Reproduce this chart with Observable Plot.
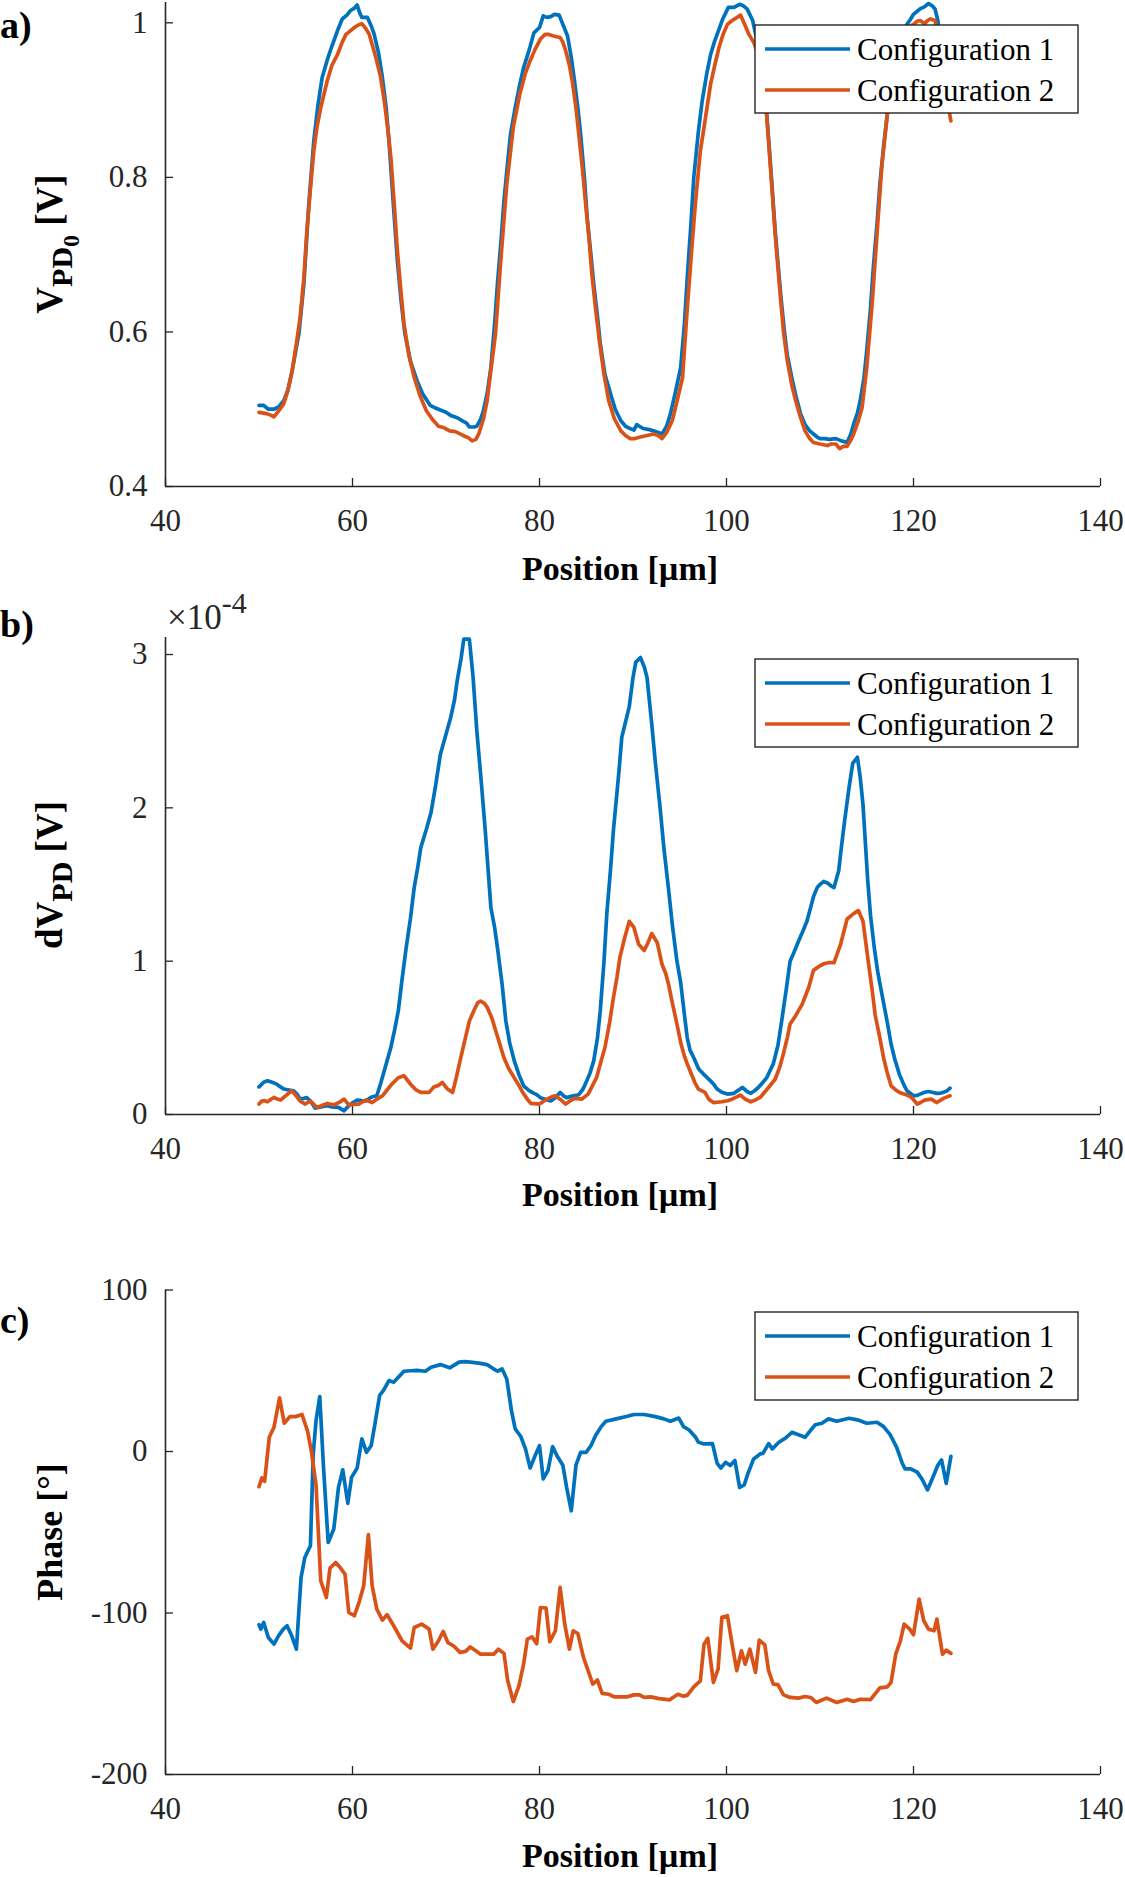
<!DOCTYPE html>
<html>
<head>
<meta charset="utf-8">
<script src="https://cdn.jsdelivr.net/npm/d3@7"></script>
<script src="https://cdn.jsdelivr.net/npm/@observablehq/plot@0.6"></script>
<style>
  html, body { margin: 0; padding: 0; background: #fff; }
  #fig { position: relative; width: 1125px; height: 1877px; overflow: hidden; }
  #fig > svg { position: absolute; left: 0; }
</style>
</head>
<body>
<div id="fig"></div>
<script>
// ---------- data ----------
const seriesNames = ["Configuration 1", "Configuration 2"];
const seriesColors = ["#0072BD", "#D95319"];
const xTicks = [40, 60, 80, 100, 120, 140];

// (a) photodiode DC level V_PD0 [V]
const posA1 = [50.0,50.5,51.0,51.6,52.1,52.65,53.1,53.55,54.27,54.8,55.3,55.86,56.3,56.75,57.3,57.8,58.4,58.9,59.4,59.8,60.2,60.5,60.8,61.0,61.6,62.0,62.3,62.8,63.2,63.6,63.9,64.4,64.8,65.2,65.6,66.2,66.9,67.5,68.3,68.8,69.4,70.0,70.5,71.2,71.9,72.2,72.5,73.0,73.3,73.7,74.0,74.4,74.8,75.2,75.5,75.9,76.2,76.6,76.9,77.4,77.8,78.3,78.9,79.4,80.0,80.4,80.8,81.2,81.6,82.1,82.5,83.0,83.4,83.7,84.1,84.4,84.8,85.1,85.5,85.8,86.2,86.5,87.0,87.6,88.1,88.7,89.2,89.7,90.1,90.4,90.8,91.1,91.6,92.2,92.7,93.1,93.6,94.0,94.5,95.1,95.5,95.8,96.2,96.5,97.0,97.4,97.9,98.3,98.7,99.0,99.6,100.2,100.8,101.4,101.8,102.2,102.8,103.3,103.8,104.3,104.7,105.2,105.8,106.2,106.5,107.0,107.4,107.9,108.4,108.9,109.3,109.7,110.0,110.5,111.0,111.7,112.3,112.9,113.3,113.6,114.0,114.3,114.7,115.0,115.4,115.7,116.1,116.4,116.8,117.2,117.7,118.3,118.8,119.3,119.7,120.0,120.4,120.7,121.2,121.6,122.0,122.3,122.6,123.0,123.5,124.0];
const vA1 = [0.505,0.505,0.500,0.500,0.503,0.511,0.525,0.550,0.598,0.662,0.761,0.847,0.893,0.929,0.952,0.970,0.990,1.005,1.010,1.016,1.019,1.023,1.012,1.007,1.007,0.996,0.986,0.960,0.929,0.890,0.847,0.760,0.692,0.640,0.598,0.562,0.537,0.520,0.505,0.502,0.499,0.496,0.492,0.489,0.484,0.482,0.477,0.477,0.478,0.487,0.498,0.520,0.554,0.610,0.662,0.720,0.770,0.820,0.856,0.890,0.915,0.942,0.965,0.987,0.994,1.009,1.007,1.008,1.011,1.010,0.998,0.983,0.955,0.929,0.890,0.856,0.800,0.748,0.700,0.662,0.620,0.585,0.545,0.520,0.500,0.485,0.478,0.475,0.473,0.480,0.477,0.475,0.474,0.472,0.470,0.468,0.478,0.494,0.520,0.554,0.610,0.670,0.740,0.800,0.860,0.899,0.935,0.959,0.975,0.985,1.005,1.020,1.020,1.024,1.022,1.018,1.003,0.975,0.930,0.882,0.818,0.732,0.648,0.600,0.570,0.540,0.518,0.495,0.480,0.472,0.468,0.464,0.462,0.462,0.461,0.462,0.459,0.457,0.468,0.481,0.495,0.511,0.540,0.576,0.630,0.683,0.740,0.791,0.840,0.882,0.930,0.965,0.985,0.998,1.005,1.011,1.015,1.018,1.021,1.025,1.022,1.018,1.003,0.970,0.930,0.895];
const posA2 = [50.0,50.5,50.9,51.3,51.6,52.1,52.65,53.1,53.55,54.0,54.4,54.8,55.1,55.5,55.86,56.2,56.6,57.3,57.8,58.4,58.9,59.3,59.8,60.2,60.6,61.0,61.4,61.8,62.1,62.5,63.0,63.4,63.8,64.1,64.5,64.8,65.2,65.5,66.0,66.6,67.2,67.9,68.6,69.2,69.8,70.4,71.0,71.5,72.0,72.4,72.8,73.2,73.5,74.0,74.4,74.8,75.3,75.8,76.2,76.5,77.2,77.9,78.5,79.0,79.5,80.1,80.6,81.0,81.5,82.2,82.5,82.8,83.2,83.5,83.9,84.2,84.6,84.9,85.3,85.6,86.0,86.4,86.9,87.4,88.0,88.7,89.2,89.7,90.2,90.8,91.5,92.2,92.7,93.1,93.6,94.2,94.7,95.3,95.8,96.3,96.7,97.2,97.6,98.3,98.8,99.2,99.6,100.1,100.6,101.0,101.5,101.9,102.4,102.9,103.3,103.8,104.3,104.7,105.2,105.8,106.1,106.5,107.0,107.4,107.9,108.4,108.9,109.3,110.0,110.8,111.2,111.7,112.1,112.5,112.9,113.3,113.6,114.1,114.5,115.0,115.6,116.1,116.6,117.2,117.7,118.3,118.9,119.5,120.0,120.4,120.7,121.2,121.5,121.8,122.3,122.7,123.2,123.6,124.0];
const vA2 = [0.496,0.495,0.494,0.492,0.490,0.498,0.507,0.525,0.550,0.585,0.619,0.670,0.727,0.785,0.834,0.865,0.890,0.925,0.945,0.959,0.975,0.985,0.990,0.994,0.997,0.999,0.993,0.985,0.972,0.955,0.930,0.899,0.860,0.826,0.760,0.705,0.650,0.611,0.572,0.541,0.518,0.498,0.486,0.478,0.476,0.472,0.471,0.468,0.465,0.463,0.459,0.461,0.468,0.487,0.511,0.550,0.598,0.683,0.745,0.791,0.865,0.908,0.935,0.951,0.965,0.979,0.985,0.985,0.983,0.981,0.975,0.964,0.945,0.925,0.890,0.856,0.810,0.770,0.720,0.675,0.630,0.589,0.545,0.511,0.488,0.472,0.466,0.462,0.462,0.464,0.466,0.468,0.466,0.462,0.470,0.485,0.510,0.541,0.630,0.710,0.770,0.834,0.865,0.921,0.948,0.968,0.984,0.998,1.003,1.006,1.010,0.999,0.985,0.975,0.962,0.930,0.880,0.813,0.727,0.640,0.600,0.563,0.530,0.511,0.490,0.472,0.462,0.457,0.455,0.453,0.455,0.455,0.449,0.452,0.452,0.460,0.468,0.485,0.502,0.554,0.640,0.727,0.813,0.882,0.930,0.965,0.985,0.995,0.998,1.002,1.003,0.999,1.003,1.005,1.003,0.980,0.940,0.900,0.873];

// (b) modulated signal dV_PD, in units of 1e-4 V
const posB1 = [50.0,50.5,50.9,51.4,51.9,52.3,52.65,53.2,53.7,54.1,54.4,54.8,55.1,55.5,56.0,56.5,57.3,57.8,58.5,59.1,59.6,60.1,60.5,61.0,61.4,61.8,62.1,62.6,63.0,63.3,63.7,64.1,64.5,64.9,65.3,65.7,66.2,66.6,67.0,67.3,67.9,68.4,68.9,69.4,70.0,70.5,70.9,71.2,71.6,71.9,72.5,72.9,73.3,73.8,74.2,74.5,74.8,75.2,75.5,76.0,76.4,76.8,77.3,77.8,78.3,78.8,79.2,79.7,80.1,80.6,81.2,81.7,82.2,82.6,82.9,83.5,84.2,84.6,84.9,85.4,85.8,86.2,86.5,86.9,87.2,87.6,87.9,88.5,88.8,89.2,89.6,90.0,90.3,90.8,91.2,91.5,92.0,92.4,92.9,93.3,93.8,94.2,94.7,95.1,95.5,95.8,96.1,96.5,97.0,97.2,97.6,98.1,98.6,99.0,99.5,100.1,100.8,101.3,101.7,102.2,102.6,103.0,103.4,103.9,104.3,105.0,105.5,105.9,106.4,106.8,107.3,107.7,108.2,108.6,109.0,109.3,109.7,110.0,110.4,110.8,111.2,111.5,112.0,112.3,112.6,113.1,113.5,114.0,114.3,114.6,115.1,115.4,115.8,116.2,116.7,117.2,117.6,118.0,118.5,119.0,119.3,120.0,120.4,120.7,121.2,121.6,122.0,122.5,122.9,123.2,123.6,123.9];
const dvB1 = [0.18,0.21,0.22,0.21,0.198,0.18,0.166,0.16,0.155,0.13,0.10,0.105,0.11,0.088,0.042,0.048,0.057,0.05,0.046,0.024,0.057,0.08,0.094,0.09,0.088,0.105,0.116,0.122,0.20,0.264,0.35,0.437,0.55,0.677,0.88,1.069,1.28,1.48,1.62,1.74,1.86,1.97,2.15,2.35,2.48,2.59,2.70,2.83,2.97,3.10,3.10,2.85,2.50,2.15,1.85,1.60,1.35,1.22,1.09,0.85,0.61,0.47,0.35,0.26,0.187,0.16,0.144,0.13,0.11,0.10,0.088,0.11,0.144,0.12,0.11,0.12,0.129,0.16,0.198,0.27,0.35,0.50,0.677,1.00,1.31,1.60,1.85,2.24,2.46,2.56,2.66,2.85,2.95,2.98,2.92,2.85,2.55,2.29,2.00,1.74,1.47,1.24,1.00,0.86,0.65,0.50,0.42,0.37,0.30,0.285,0.26,0.231,0.20,0.166,0.145,0.133,0.138,0.16,0.176,0.15,0.138,0.155,0.176,0.21,0.24,0.33,0.45,0.61,0.82,1.00,1.07,1.13,1.20,1.26,1.35,1.42,1.48,1.50,1.52,1.51,1.49,1.48,1.59,1.75,1.90,2.13,2.29,2.33,2.20,2.02,1.53,1.30,1.09,0.92,0.76,0.60,0.46,0.36,0.26,0.19,0.155,0.122,0.125,0.133,0.145,0.15,0.145,0.138,0.14,0.144,0.155,0.172];
const posB2 = [50.0,50.3,50.6,50.9,51.3,51.6,52.0,52.3,52.9,53.5,54.0,54.4,54.9,55.5,55.8,56.2,56.8,57.3,58.0,58.6,59.1,59.6,60.1,60.7,61.0,61.4,62.1,62.6,63.2,63.7,64.2,64.9,65.5,65.8,66.2,66.8,67.3,68.2,68.7,69.2,69.6,70.1,70.7,71.1,71.5,72.0,72.5,73.0,73.4,73.7,74.1,74.4,74.9,75.3,75.8,76.2,76.7,77.3,77.8,78.2,78.7,79.1,80.0,80.4,80.8,81.3,81.7,82.2,82.8,83.3,83.8,84.5,85.2,85.6,86.1,86.5,87.0,87.5,87.9,88.3,88.6,89.1,89.6,90.1,90.6,91.2,91.6,92.0,92.6,93.1,93.5,93.8,94.2,94.7,95.1,95.5,95.8,96.1,96.6,97.0,97.7,98.1,98.6,99.5,100.1,100.6,101.1,101.5,102.0,102.6,103.1,103.6,104.0,104.5,105.2,105.7,106.1,106.5,106.8,107.4,108.1,108.8,109.3,110.0,110.5,110.9,111.5,112.2,112.9,113.6,114.1,114.6,114.9,115.2,115.6,115.9,116.4,116.8,117.2,117.6,118.1,118.5,119.3,119.8,120.4,120.8,121.2,121.9,122.5,123.2,123.9];
const dvB2 = [0.068,0.088,0.09,0.083,0.10,0.111,0.10,0.094,0.125,0.155,0.12,0.088,0.068,0.088,0.07,0.046,0.06,0.072,0.063,0.08,0.10,0.063,0.066,0.068,0.08,0.094,0.078,0.10,0.122,0.16,0.198,0.24,0.253,0.23,0.198,0.16,0.144,0.144,0.18,0.19,0.209,0.17,0.144,0.24,0.35,0.48,0.61,0.68,0.73,0.74,0.725,0.70,0.63,0.55,0.45,0.37,0.30,0.24,0.19,0.144,0.10,0.072,0.068,0.085,0.10,0.115,0.122,0.10,0.068,0.09,0.105,0.10,0.133,0.18,0.24,0.33,0.437,0.60,0.76,0.90,1.025,1.15,1.26,1.22,1.11,1.07,1.12,1.18,1.12,0.98,0.92,0.85,0.73,0.59,0.47,0.38,0.33,0.285,0.21,0.166,0.144,0.10,0.078,0.083,0.09,0.10,0.115,0.127,0.10,0.083,0.095,0.111,0.14,0.176,0.23,0.31,0.40,0.50,0.59,0.645,0.72,0.83,0.94,0.97,0.985,0.99,0.99,1.11,1.275,1.31,1.33,1.26,1.12,0.98,0.80,0.65,0.50,0.37,0.27,0.187,0.16,0.144,0.127,0.111,0.068,0.08,0.094,0.10,0.078,0.105,0.122];

// (c) phase [deg]
const posC1 = [50.0,50.2,50.5,51.0,51.6,52.1,52.6,53.0,53.5,54.0,54.5,54.9,55.5,55.8,56.1,56.5,56.9,57.4,58.0,58.5,58.96,59.5,59.9,60.5,61.0,61.5,62.0,62.4,62.9,63.3,63.9,64.4,64.9,65.5,66.2,66.9,67.8,68.4,69.4,70.4,71.4,72.0,72.6,73.5,74.4,75.0,75.5,76.0,76.5,77.0,77.4,78.0,78.5,79.0,79.5,80.0,80.4,80.9,81.4,81.9,82.5,82.9,83.4,83.9,84.4,85.0,85.5,86.0,86.6,87.1,88.2,89.4,90.1,91.2,92.4,93.3,94.0,94.9,95.4,96.0,96.7,97.0,97.6,98.5,99.0,99.4,99.9,100.4,100.9,101.4,101.9,102.3,102.9,103.6,103.9,104.5,104.9,105.6,106.3,107.0,107.7,108.4,109.5,110.2,110.9,111.8,113.1,114.0,115.0,116.1,116.8,117.5,118.2,118.8,119.1,119.7,120.4,120.9,121.5,122.0,122.6,123.0,123.5,124.0];
const phC1 = [-107.3,-110,-105.9,-115.2,-119.3,-114,-110,-107.9,-114.1,-122.4,-78.0,-65.6,-58.4,-1.5,19,34,-9.8,-56.3,-48,-22.2,-11.4,-32.1,-16,-10.2,7.8,-0.5,3.6,17.1,34.7,37.7,43.9,42.9,46,49.7,50.0,50.2,49.7,52.2,53.8,51.8,55.3,55.6,55.3,54.7,53.8,51.5,49.7,51.1,44.9,25.3,14.0,9.3,1.6,-10.2,-3,3.6,-17,-11.8,3.0,-3,-8.5,-22.2,-36.7,-8.5,-0.5,-0.5,3.6,9.9,15.4,18.7,20.2,21.8,22.9,22.9,21.6,20.2,18.7,20.7,15.4,13.3,8.8,5.7,4.7,4.9,-7.3,-10.2,-6.7,-8.7,-5.6,-22.2,-20.6,-13.5,-4.6,-1.5,-1.2,4.9,1.6,5.7,8.3,11.9,10.4,8.8,16.6,17.5,20.2,18.7,20.6,19.6,17.5,18.1,15.4,10.4,2.6,-7.3,-10.8,-10.8,-12.8,-17,-23.8,-17,-8.5,-5.2,-19.7,-3.0];
const posC2 = [50.0,50.3,50.6,51.1,51.6,52.2,52.7,53.3,53.9,54.6,55.2,55.6,56.1,56.6,57.2,57.6,58.2,58.7,59.2,59.6,60.2,60.7,61.2,61.7,62.1,62.6,63.2,63.7,64.4,65.3,66.2,66.6,67.4,68.2,68.6,69.2,69.7,70.2,70.8,71.5,72.1,72.6,73.3,73.7,75.1,75.6,76.2,76.6,77.2,77.8,78.3,78.7,79.2,79.7,80.1,80.7,81.1,81.7,82.2,82.7,83.2,83.6,84.1,84.7,85.2,85.7,86.2,86.7,87.4,88.0,89.4,90.1,90.7,91.2,91.9,92.8,93.9,94.8,95.4,95.8,96.5,97.2,97.6,98.0,98.6,99.1,99.5,100.1,100.6,101.1,101.6,102.0,102.5,103.1,103.5,104.1,104.5,105.0,105.5,106.1,106.8,107.7,108.4,109.0,109.6,110.7,111.8,112.9,113.6,114.3,115.4,116.4,117.2,117.6,118.1,118.6,119.0,119.6,120.0,120.6,121.1,121.6,122.2,122.5,123.1,123.5,124.0];
const phC2 = [-21.8,-16.4,-18.5,8.8,15.0,33.2,17.5,21.6,21.6,22.9,12.5,0.1,-20.5,-80.0,-90.4,-72.2,-68.7,-72,-75.9,-99.6,-101.7,-93.4,-83.1,-51.5,-83.1,-97.6,-104.4,-101.1,-107.9,-117.2,-121.7,-109,-106.9,-110,-122.4,-117.2,-111.4,-118.3,-120.3,-124.4,-123.8,-121,-123.8,-125.5,-125.5,-122.4,-125,-142,-154.8,-145.1,-131.7,-116.2,-114.8,-119,-96.6,-96.9,-117.8,-111,-84.1,-106.9,-122.4,-111,-112.7,-127.5,-135.7,-144,-141.5,-149.8,-150.3,-151.9,-151.9,-150.7,-150.7,-152.3,-151.9,-153,-153.8,-150.3,-151.5,-151,-145.7,-142.0,-119.3,-115.6,-143,-134.7,-102.7,-101.7,-119.3,-135.7,-123.4,-131.7,-122.4,-136.8,-116.8,-119.7,-135.7,-144,-144.4,-150.7,-152.3,-152.7,-151.7,-152.3,-155.4,-152.7,-155.4,-153.4,-154.8,-153.4,-153.6,-146.4,-145.7,-142.9,-125.5,-117.2,-106.9,-110,-113.5,-91.4,-104.8,-110,-111,-103.8,-125.5,-123,-125];

// ---------- drawing ----------
const FONT = "Liberation Serif";
const AXIS = "#262626";
const fig = document.getElementById("fig");

function rows(xs, ys) { return xs.map((x, i) => ({x, y: ys[i]})); }

// every text of a panel uses the same serif face
function serifText(svg) {
  svg.setAttribute("font-family", FONT);
  svg.querySelectorAll("g, text, tspan").forEach(el => el.setAttribute("font-family", FONT));
}

function panel({top, height, marginTop, marginBottom, yDomain, yTicks, yFormat, lines}) {
  const svg = Plot.plot({
    width: 1125, height,
    marginLeft: 165, marginRight: 25, marginTop, marginBottom,
    style: {fontSize: "31px", color: AXIS, background: "transparent", overflow: "visible", maxWidth: "none"},
    x: {domain: [40, 140]},
    y: {domain: yDomain},
    marks: [
      Plot.ruleX([40], {stroke: AXIS, strokeWidth: 1.6}),
      Plot.ruleY([yDomain[0]], {stroke: AXIS, strokeWidth: 1.6}),
      Plot.axisX({ticks: xTicks, tickSize: -8, tickPadding: 30, tickFormat: d => `${d}`, label: null, fontSize: 31, strokeWidth: 1.3, fontVariant: "normal"}),
      Plot.axisY({ticks: yTicks, tickSize: -8, tickPadding: 26, tickFormat: yFormat, label: null, fontSize: 31, strokeWidth: 1.3, fontVariant: "normal"}),
      ...lines.map((l, i) => Plot.line(l, {x: "x", y: "y", stroke: seriesColors[i], strokeWidth: 3.7, strokeLinejoin: "round"}))
    ]
  });
  serifText(svg);
  svg.style.top = top + "px";
  fig.appendChild(svg);
  return svg;
}

panel({
  top: 0, height: 600, marginTop: 2, marginBottom: 114,
  yDomain: [0.4, 1.0263], yTicks: [0.4, 0.6, 0.8, 1], yFormat: d => `${+d.toFixed(1)}`,
  lines: [rows(posA1, vA1), rows(posA2, vA2)]
});
panel({
  top: 600, height: 620, marginTop: 37, marginBottom: 106,
  yDomain: [0, 3.111], yTicks: [0, 1, 2, 3], yFormat: d => `${d}`,
  lines: [rows(posB1, dvB1), rows(posB2, dvB2)]
});
panel({
  top: 1220, height: 657, marginTop: 69.5, marginBottom: 103,
  yDomain: [-200, 100], yTicks: [-200, -100, 0, 100], yFormat: d => `${d}`,
  lines: [rows(posC1, phC1), rows(posC2, phC2)]
});

// ---------- labels, legends ----------
const ov = d3.select(fig).append("svg")
  .attr("width", 1125).attr("height", 1877)
  .style("top", "0px")
  .attr("font-family", FONT);

// panel letters
[["a)", 38], ["b)", 637], ["c)", 1333]].forEach(([t, y]) =>
  ov.append("text").attr("x", 0).attr("y", y).attr("font-family", FONT).attr("font-size", 38).attr("font-weight", "bold").attr("fill", "#000").text(t));

// x labels
[580, 1206, 1867].forEach(y =>
  ov.append("text").attr("x", 620).attr("y", y).attr("text-anchor", "middle").attr("font-family", FONT)
    .attr("font-size", 34).attr("font-weight", "bold").attr("fill", "#000").text("Position [µm]"));

// y labels (rotated, with subscripts)
function ylabel(cy, parts) {
  const t = ov.append("text").attr("transform", `translate(62,${cy}) rotate(-90)`).attr("font-family", FONT)
    .attr("text-anchor", "middle").attr("font-weight", "bold").attr("fill", "#000").attr("font-size", 36);
  parts.forEach(([s, size, dy]) => t.append("tspan").attr("font-size", size).attr("dy", dy).text(s));
}
ylabel(244, [["V", 37, 0], ["PD", 30, 10], ["0", 24, 7], [" [V]", 37, -17]]);
ylabel(875, [["dV", 37, 0], ["PD", 30, 10], [" [V]", 37, -10]]);
ylabel(1532, [["Phase [°]", 36, 0]]);

// exponent of panel (b)
const ex = ov.append("text").attr("x", 167).attr("y", 629).attr("font-family", FONT).attr("font-size", 35).attr("fill", AXIS);
ex.append("tspan").text("×10");
ex.append("tspan").attr("font-size", 30).attr("dy", -16).text("-4");

// legends
function legend(top) {
  const g = ov.append("g").attr("transform", `translate(755,${top})`);
  g.append("rect").attr("width", 323).attr("height", 88).attr("fill", "#fff").attr("stroke", AXIS).attr("stroke-width", 1.4);
  seriesNames.forEach((name, i) => {
    const y = 24 + i * 41;
    g.append("line").attr("x1", 10).attr("x2", 95).attr("y1", y).attr("y2", y).attr("stroke", seriesColors[i]).attr("stroke-width", 3.7);
    g.append("text").attr("x", 102).attr("y", y + 11).attr("font-family", FONT).attr("font-size", 31).attr("fill", "#000").text(name);
  });
}
legend(25); legend(659); legend(1312);
</script>
</body>
</html>
